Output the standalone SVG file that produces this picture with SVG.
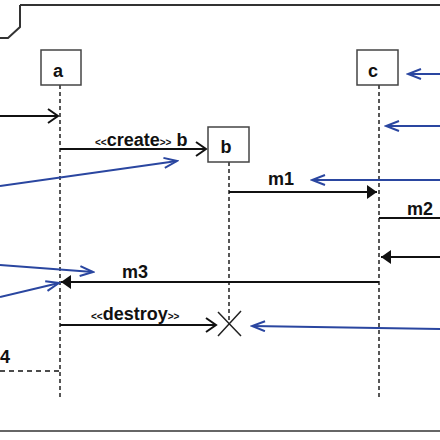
<svg xmlns="http://www.w3.org/2000/svg" width="440" height="440" viewBox="0 0 440 440">
<style>
.frame{fill:none;stroke:#333;stroke-width:2}
.box{fill:#fff;stroke:#444;stroke-width:1.5}
.life{stroke:#111;stroke-width:1.4;stroke-dasharray:4 3;fill:none}
.msg{stroke:#111;stroke-width:2;fill:none}
.ret{stroke:#111;stroke-width:1.5;stroke-dasharray:5 4;fill:none}
.blue{stroke:#2a46a0;stroke-width:2;fill:none}
.lbl{font-family:"Liberation Sans",Arial,sans-serif;font-weight:bold;font-size:18px;fill:#111}
.sm{font-size:10px}
</style>
<defs>
<marker id="open" markerUnits="userSpaceOnUse" markerWidth="14" markerHeight="18" refX="11" refY="8" orient="auto">
<path d="M1,1 L11,8 L1,15" fill="none" stroke="#111" stroke-width="2"/>
</marker>
<marker id="fill" markerUnits="userSpaceOnUse" markerWidth="12" markerHeight="16" refX="10" refY="7" orient="auto">
<path d="M0,0 L10,7 L0,14 z" fill="#111"/>
</marker>
<marker id="blueHead" markerUnits="userSpaceOnUse" markerWidth="16" markerHeight="14" refX="14" refY="6" orient="auto">
<path d="M1,1 L14,6 L1,11" fill="none" stroke="#2a46a0" stroke-width="2"/>
</marker>
</defs>

<g id="frame">
<path class="frame" d="M20,5 H440"/>
<path class="frame" d="M20,5 V27 L8,38 H0"/>
<path d="M0,431 H440" stroke="#666" stroke-width="2"/>
</g>

<g id="lifelines">
<path class="life" d="M60,85 V400"/>
<path class="life" d="M379,85 V400"/>
<path class="life" d="M229,162 V324"/>
</g>

<g id="node-a">
<rect class="box" x="41" y="50" width="40" height="35"/>
<text class="lbl" x="58" y="77" text-anchor="middle">a</text>
</g>
<g id="node-c">
<rect class="box" x="357" y="50" width="41" height="35"/>
<text class="lbl" x="373" y="77" text-anchor="middle">c</text>
</g>
<g id="node-b">
<rect class="box" x="208" y="127" width="41" height="35"/>
<text class="lbl" x="226" y="153" text-anchor="middle">b</text>
</g>
<g id="destroy-mark">
<path d="M218,312 L241,336 M241,311 L218,336" stroke="#222" stroke-width="1.5" fill="none"/>
</g>

<g id="connectors">
<path class="msg" d="M0,116 H58" marker-end="url(#open)"/>
<path class="msg" d="M60,149 H206" marker-end="url(#open)"/>
<path class="msg" d="M229,192 H377" marker-end="url(#fill)"/>
<path class="msg" d="M379,218 H440"/>
<path class="msg" d="M440,257 H381" marker-end="url(#fill)"/>
<path class="msg" d="M379,282 H61" marker-end="url(#fill)"/>
<path class="msg" d="M60,325 H216" marker-end="url(#open)"/>
<path class="ret" d="M0,371 H60"/>

<path class="blue" d="M440,74 H408" marker-end="url(#blueHead)"/>
<path class="blue" d="M440,126 H386" marker-end="url(#blueHead)"/>
<path class="blue" d="M440,180 H312" marker-end="url(#blueHead)"/>
<path class="blue" d="M440,329 L252,326" marker-end="url(#blueHead)"/>
<path class="blue" d="M0,186 L177,161" marker-end="url(#blueHead)"/>
<path class="blue" d="M0,265 L93,272" marker-end="url(#blueHead)"/>
<path class="blue" d="M0,297 L59,283" marker-end="url(#blueHead)"/>
</g>

<g id="labels">
<text class="lbl" x="95" y="146"><tspan class="sm">&lt;&lt;</tspan>create<tspan class="sm">&gt;&gt;</tspan> b</text>
<text class="lbl" x="268" y="185">m1</text>
<text class="lbl" x="407" y="215">m2</text>
<text class="lbl" x="122" y="278">m3</text>
<text class="lbl" x="91" y="320"><tspan class="sm">&lt;&lt;</tspan>destroy<tspan class="sm">&gt;&gt;</tspan></text>
<text class="lbl" x="0" y="363">4</text>
</g>
</svg>
